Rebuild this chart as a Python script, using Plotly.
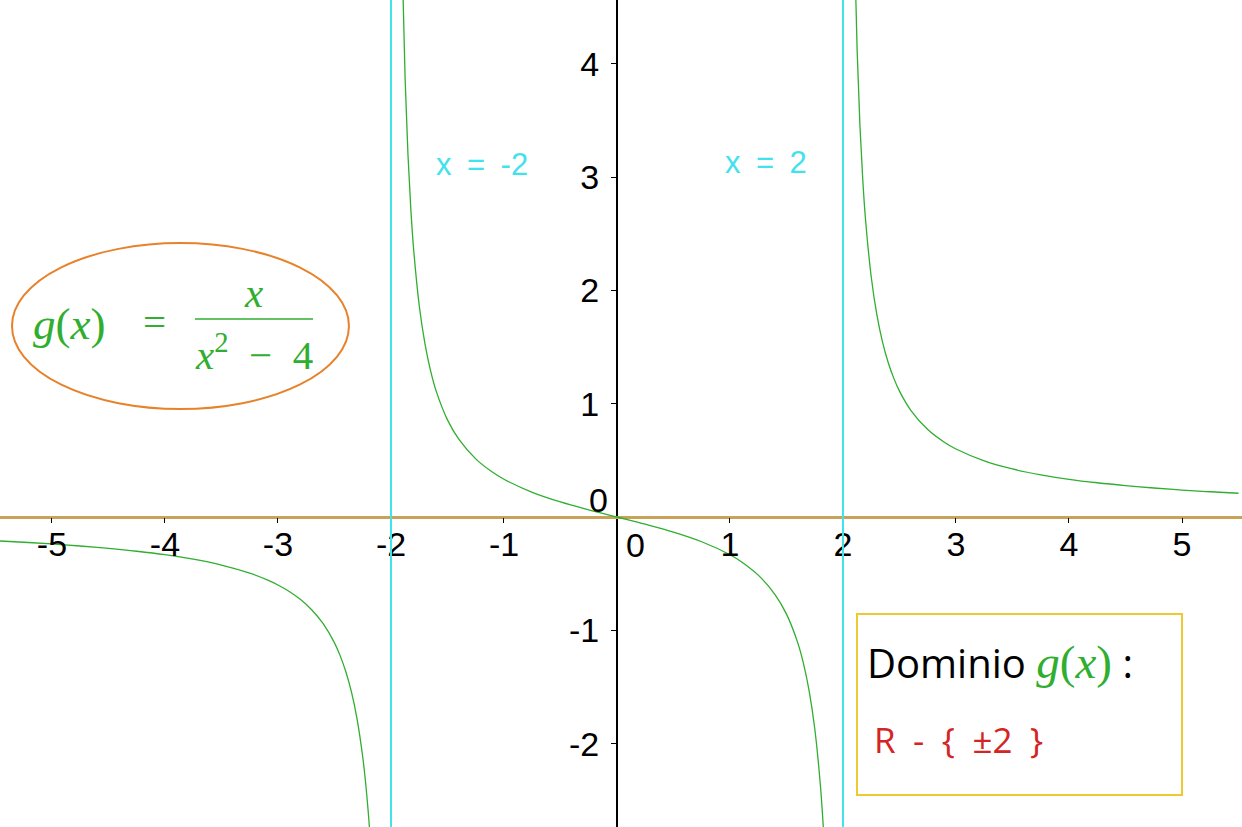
import plotly.graph_objects as go

# g(x) = x / (x^2 - 4), one list per branch
x_left = [-5.5, -5.25, -5.0, -4.75, -4.5, -4.25, -4.0, -3.75, -3.5, -3.25, -3.1, -3.0,
          -2.9, -2.8, -2.7, -2.6, -2.5, -2.45, -2.4, -2.35, -2.3, -2.25, -2.225, -2.2, -2.19]
y_left = [-0.2095, -0.2228, -0.238, -0.2559, -0.277, -0.3022, -0.333, -0.3727, -0.424, -0.4952,
          -0.5526, -0.6, -0.6576, -0.729, -0.8207, -0.942, -1.111, -1.2235, -1.364, -1.544,
          -1.783, -2.118, -2.3406, -2.619, -2.751]

x_mid = [-1.9, -1.875, -1.85, -1.825, -1.8, -1.75, -1.7, -1.65, -1.6, -1.5, -1.4, -1.25,
         -1.1, -1.0, -0.75, -0.5, -0.25, 0.0, 0.25, 0.5, 0.75, 1.0, 1.1, 1.25, 1.4, 1.5,
         1.6, 1.65, 1.7, 1.75, 1.8, 1.825, 1.85]
y_mid = [4.872, 3.871, 3.203, 2.726, 2.368, 1.867, 1.532, 1.2916, 1.111, 0.857, 0.6863, 0.513,
         0.3943, 0.333, 0.2182, 0.133, 0.0635, 0.0, -0.0635, -0.133, -0.2182, -0.333, -0.3943,
         -0.513, -0.6863, -0.857, -1.111, -1.2916, -1.532, -1.867, -2.368, -2.726, -3.203]

x_right = [2.1, 2.125, 2.15, 2.175, 2.2, 2.25, 2.3, 2.35, 2.4, 2.45, 2.5, 2.6, 2.75, 2.9,
           3.0, 3.25, 3.5, 3.75, 4.0, 4.25, 4.5, 4.75, 5.0, 5.25, 5.5]
y_right = [5.122, 4.121, 3.454, 2.977, 2.619, 2.118, 1.783, 1.544, 1.364, 1.2235, 1.111, 0.942,
           0.772, 0.6576, 0.6, 0.4952, 0.424, 0.3727, 0.333, 0.3022, 0.277, 0.2559, 0.238,
           0.2228, 0.2095]

asymptotes = [-2, 2]
asym_labels = ["x\u2002=\u2002-2", "x\u2002=\u20022"]

x_ticks = [-5, -4, -3, -2, -1, 1, 2, 3, 4, 5]
x_ticktext = ["-5", "-4", "-3", "-2", "-1", "1", "2", "3", "4", "5"]
y_ticks = [-2, -1, 1, 2, 3, 4]
y_ticktext = ["-2", "-1", "1", "2", "3", "4"]

x_range = [-5.460, 5.531]
y_range = [-2.736, 4.563]

green = "#2fae2f"
cyan = "#42e2ec"
sans = "Liberation Sans, Arial"
tick_font = dict(family=sans, size=34, color="black")

fig = go.Figure()

for xs, ys in [(x_left, y_left), (x_mid, y_mid), (x_right, y_right)]:
    fig.add_trace(go.Scatter(x=xs, y=ys, mode="lines", line=dict(color=green, width=1.3),
                             line_shape="spline", hoverinfo="skip", showlegend=False))

for a in asymptotes:
    fig.add_vline(x=a, line=dict(color=cyan, width=2))

# asymptote labels
fig.add_annotation(x=-1.195, y=3.107, text=asym_labels[0], showarrow=False,
                   font=dict(family=sans, size=31, color=cyan))
fig.add_annotation(x=1.319, y=3.133, text=asym_labels[1], showarrow=False,
                   font=dict(family=sans, size=31, color=cyan))

# zero labels
fig.add_annotation(x=-0.168, y=0.15, text="0", showarrow=False, font=tick_font)
fig.add_annotation(x=0.168, y=-0.247, text="0", showarrow=False, font=tick_font)

# formula in the ellipse
fig.add_shape(type="circle", xref="x", yref="y", x0=-5.354, x1=-2.372, y0=0.953, y1=2.418,
              line=dict(color="#e8822a", width=2))
serif = dict(family="Liberation Serif, Times New Roman, serif", size=41, color=green)
fig.add_annotation(x=-4.85, y=1.70, text="<i>g</i>(<i>x</i>)", showarrow=False,
                   font=dict(family=serif["family"], size=45, color=green))
fig.add_annotation(x=-4.097, y=1.72, text="=", showarrow=False, font=serif)
fig.add_annotation(x=-3.221, y=1.98, text="<i>x</i>", showarrow=False, font=serif)
fig.add_shape(type="line", xref="x", yref="y", x0=-3.735, x1=-2.69, y0=1.748, y1=1.748,
              line=dict(color=green, width=1.5))
fig.add_annotation(x=-3.212, y=1.46, text="<i>x</i><sup>2</sup>\u2002−\u20024",
                   showarrow=False, font=serif)

# domain box
fig.add_shape(type="rect", xref="x", yref="y", x0=2.124, x1=5.0, y0=-2.454, y1=-0.856,
              line=dict(color="#f0c832", width=2), fillcolor="white")
fig.add_annotation(x=2.195, y=-1.28, xanchor="left",
                   text="Dominio <span style='color:" + green + "; font-family:Liberation Serif;"
                        " font-size:47px'><i>g</i>(<i>x</i>)</span> :",
                   showarrow=False,
                   font=dict(family="Open Sans, sans-serif", size=40, color="black"))
fig.add_annotation(x=2.257, y=-1.968, xanchor="left",
                   text="R\u2002-\u2002{\u2002±2\u2002}", showarrow=False,
                   font=dict(family="Open Sans, sans-serif", size=35, color="#d42424"))

fig.update_layout(
    width=1242, height=827,
    margin=dict(l=0, r=0, t=0, b=0),
    plot_bgcolor="white", paper_bgcolor="white",
    xaxis=dict(range=x_range, showgrid=False, zeroline=True, zerolinecolor="black",
               zerolinewidth=1.5, tickvals=x_ticks, ticktext=x_ticktext, ticks="outside",
               ticklen=5, tickcolor="black", tickfont=tick_font, anchor="free",
               position=(0 - y_range[0]) / (y_range[1] - y_range[0]),
               ticklabelstandoff=-8, showline=False),
    yaxis=dict(range=y_range, showgrid=False, zeroline=True, zerolinecolor="#c9a25a",
               zerolinewidth=3, tickvals=y_ticks, ticktext=y_ticktext, ticks="outside",
               ticklen=6, tickcolor="black", tickfont=tick_font, anchor="free",
               position=(0 - x_range[0]) / (x_range[1] - x_range[0]),
               ticklabelstandoff=5, showline=False),
)

# the page sits flush in the window, like the reference picture
fig.write_html("out.html", config={"displayModeBar": False},
               post_script="document.body.style.margin='0px';")
